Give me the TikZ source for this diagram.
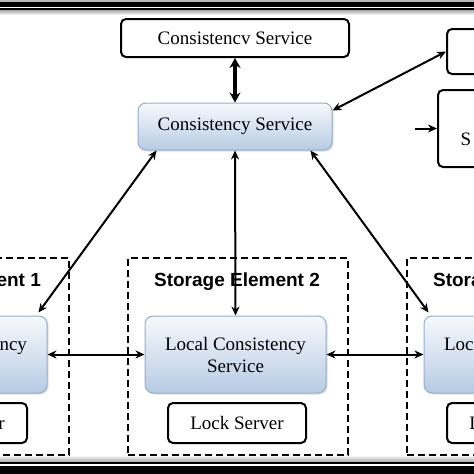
\documentclass[tikz,border=0pt]{standalone}
\usepackage{fontspec}
\setmainfont{Liberation Serif}
\newfontfamily\headfont{Liberation Sans}
\usetikzlibrary{arrows.meta,positioning,shadows}

\definecolor{csTop}{HTML}{F6F9FC}
\definecolor{csBot}{HTML}{B7CBE3}
\definecolor{csEdge}{HTML}{93AECF}

\begin{document}
\begin{tikzpicture}[x=1pt, y=-1pt,
    plainbox/.style={rectangle, draw, line width=2pt, rounded corners=5pt,
                     font=\fontsize{19}{21}\selectfont, fill=white},
    shadedbox/.style={rectangle, draw=csEdge, line width=1pt, rounded corners=8pt,
                      top color=csTop, bottom color=csBot, align=center,
                      font=\fontsize{19}{22}\selectfont,
                      drop shadow={opacity=0.25, shadow xshift=1.5pt, shadow yshift=-1.5pt}},
    elembox/.style={rectangle, draw, line width=2pt, dash pattern=on 7pt off 4pt},
    elemtitle/.style={font=\headfont\bfseries\fontsize{19}{21}\selectfont},
    link/.style={{Stealth[length=9pt,width=8pt]}-{Stealth[length=9pt,width=8pt]}, line width=2pt},
    biglink/.style={{Stealth[length=10pt,width=11pt]}-{Stealth[length=10pt,width=11pt]}, line width=3.5pt}
  ]
    \useasboundingbox (0,0) rectangle (474,474);
    \clip (0,0) rectangle (474,474);

    % frame bars
    \fill[gray!55] (0,0) rectangle (474,2);
    \fill[black] (0,2) rectangle (474,6.5);
    \fill[black] (0,8) rectangle (474,10);
    \shade[top color=gray!70, bottom color=white] (0,10) rectangle (474,15);
    \shade[top color=white, bottom color=gray!70] (0,455) rectangle (474,462);
    \fill[black] (0,462) rectangle (474,464);
    \fill[black] (0,466) rectangle (474,474);

    % top services
    \node[plainbox, minimum width=228pt, minimum height=38pt] (top) at (235,38) {Consistencv Service};
    \node[shadedbox, minimum width=194pt, minimum height=47pt] (cs) at (235,126.5) {Consistency Service};
    \node[plainbox, minimum width=100pt, minimum height=45pt] (right1) at (497,51.5) {};
    \node[plainbox, minimum width=100pt, minimum height=77pt] (right2) at (488,128.5) {};
    \node[font=\fontsize{19}{21}\selectfont] (right2txt) at (466,139) {S};
    \coordinate (feed) at (415,128.5);

    % storage elements
    \foreach \i/\dx in {1/-279, 2/0, 3/279} {
      \node[elembox, minimum width=220pt, minimum height=197pt] (se\i) at (238+\dx,356.5) {};
      \node[elemtitle] (title\i) at (237+\dx,282) {Storage Element \i};
      \node[shadedbox, minimum width=181pt, minimum height=77pt] (lcs\i) at (235.5+\dx,354.5)
        {Local Consistency\\Service};
      \node[plainbox, minimum width=138pt, minimum height=40pt] (lock\i) at (237+\dx,423) {Lock Server};
    }

    \draw[biglink] (top) -- (cs);
    \draw[link] ([yshift=16pt]cs.east) -- (right1.west);
    \draw[-{Stealth[length=9pt,width=8pt]}, line width=2pt] (feed) -- (right2.west);
    \draw[link] ([xshift=19pt]cs.south west) -- ([xshift=-9pt,yshift=3pt]lcs1.north east);
    \draw[link] (cs.south) -- (lcs2.north);
    \draw[link] ([xshift=-22pt]cs.south east) -- ([xshift=5pt,yshift=3pt]lcs3.north west);
    \draw[link] (lcs1.east) -- (lcs2.west);
    \draw[link] (lcs2.east) -- (lcs3.west);
  \end{tikzpicture}
\end{document}
